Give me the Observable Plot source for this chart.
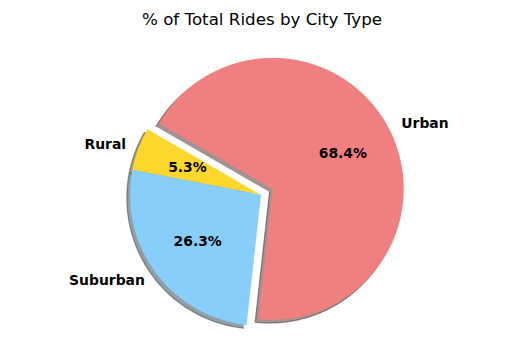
<!DOCTYPE html>
<html>
<head>
<meta charset="utf-8">
<script src="https://cdn.jsdelivr.net/npm/d3@7"></script>
<script src="https://cdn.jsdelivr.net/npm/@observablehq/plot@0.6"></script>
<style>
  html, body { margin: 0; padding: 0; background: #fff; }
  svg { font-family: "DejaVu Sans", sans-serif; }
</style>
</head>
<body>
<div id="chart"></div>
<script>
const cityTypes = ["Rural", "Suburban", "Urban"];
const ridePercents = [5.26, 26.32, 68.42];
const explode = [0, 0, 0.1];
const colors = ["#FED72C", "#87CEFA", "#F08080"];
const title = "% of Total Rides by City Type";

const startAngle = 150; // degrees, counterclockwise
const total = d3.sum(ridePercents);
const wedges = [];
let a = startAngle;
cityTypes.forEach((name, i) => {
  const span = ridePercents[i] / total * 360;
  const a0 = a, a1 = a + span;
  const mid = (a0 + a1) / 2 * Math.PI / 180;
  const cx = explode[i] * Math.cos(mid), cy = explode[i] * Math.sin(mid);
  wedges.push({name, i, a0, a1, mid, cx, cy, color: colors[i], pct: ridePercents[i]});
  a = a1;
});

function polygon(w, dx = 0, dy = 0) {
  const pts = [{name: w.name, x: w.cx + dx, y: w.cy + dy}];
  const n = Math.max(4, Math.ceil((w.a1 - w.a0) / 0.5));
  for (let k = 0; k <= n; k++) {
    const t = (w.a0 + (w.a1 - w.a0) * k / n) * Math.PI / 180;
    pts.push({name: w.name, x: w.cx + dx + Math.cos(t), y: w.cy + dy + Math.sin(t)});
  }
  return pts;
}

const shadowOff = -0.024;
function shade(c) {
  const r = d3.rgb(c);
  return d3.rgb(r.r * 0.3, r.g * 0.3, r.b * 0.3).formatHex();
}

const labels = wedges.map(w => ({
  name: w.name,
  x: w.cx + 1.1 * Math.cos(w.mid),
  y: w.cy + 1.1 * Math.sin(w.mid),
  right: Math.cos(w.mid) > 0
}));
const pcts = wedges.map(w => ({
  text: w.pct.toFixed(1) + "%",
  x: w.cx + 0.6 * Math.cos(w.mid),
  y: w.cy + 0.6 * Math.sin(w.mid)
}));

// frame: pie centre at pixel (260.5, 194.3), radius 131 px
const W = 512, H = 340, R = 131, PX = 260.5, PY = 194.3;
const chart = Plot.plot({
  width: W,
  height: H,
  margin: 0,
  x: {domain: [-PX / R, (W - PX) / R], axis: null},
  y: {domain: [(PY - H) / R, PY / R], axis: null},
  marks: [
    ...wedges.map(w => Plot.line(polygon(w, shadowOff, shadowOff), {
      x: "x", y: "y", fill: shade(w.color), fillOpacity: 0.5,
      stroke: shade(w.color), strokeOpacity: 0.5, strokeWidth: 1.2, curve: "linear"
    })),
    ...wedges.map(w => Plot.line(polygon(w), {
      x: "x", y: "y", fill: w.color, stroke: "none", curve: "linear"
    })),
    Plot.text(labels.filter(d => d.right), {
      x: "x", y: "y", text: "name", textAnchor: "start",
      fontWeight: "bold", fontSize: 13.9, fill: "black", lineAnchor: "middle"
    }),
    Plot.text(labels.filter(d => !d.right), {
      x: "x", y: "y", text: "name", textAnchor: "end",
      fontWeight: "bold", fontSize: 13.9, fill: "black", lineAnchor: "middle"
    }),
    Plot.text(pcts, {
      x: "x", y: "y", text: "text", textAnchor: "middle",
      fontWeight: "bold", fontSize: 13.9, fill: "black", lineAnchor: "middle"
    }),
    Plot.text([title], {
      frameAnchor: "top", dx: 5.5, dy: 19.5, text: d => d,
      fontSize: 16.7, fill: "black", lineAnchor: "middle"
    })
  ]
});
document.getElementById("chart").appendChild(chart);
</script>
</body>
</html>
